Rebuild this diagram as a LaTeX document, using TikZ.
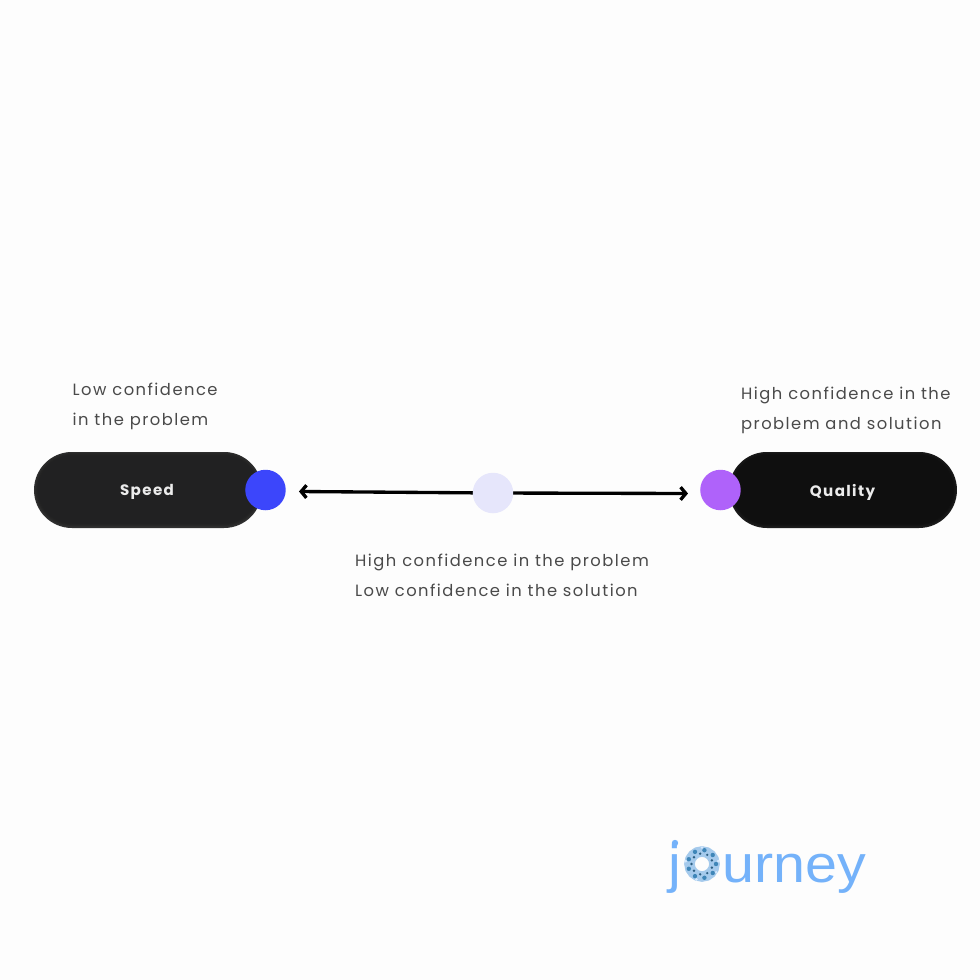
\documentclass[tikz,border=0pt]{standalone}
\usepackage{fontspec}
\setmainfont{Poppins}
\newfontfamily\notefont[LetterSpace=9]{Poppins}
\newfontfamily\pillfont[LetterSpace=9]{Poppins Bold}
\newfontfamily\logofont[FakeStretch=1.09]{Liberation Sans}
\usetikzlibrary{arrows.meta,positioning}
\definecolor{pageback}{HTML}{FDFDFD}
\definecolor{notegray}{HTML}{4A4A4A}
\definecolor{speedfill}{HTML}{212122}
\definecolor{speededge}{HTML}{303030}
\definecolor{qualfill}{HTML}{0F0F0F}
\definecolor{qualedge}{HTML}{1C1C1C}
\definecolor{dotblue}{HTML}{3C46FB}
\definecolor{dotviolet}{HTML}{AF62FA}
\definecolor{dotpale}{HTML}{E6E6FB}
\definecolor{logoblue}{HTML}{74B2FA}
\definecolor{ringblue}{HTML}{3F86B8}
\tikzset{
  pill/.style={draw=none,rounded corners=.38cm,minimum width=2.28cm,minimum height=.76cm,inner sep=0pt},
  pilllayer/.style={draw=none,inner sep=0pt,rounded corners=.38cm-#1,minimum width=2.28cm-2*#1,minimum height=.76cm-2*#1},
  pilltext/.style={text=white!92!black,font=\pillfont\fontsize{4.3}{6}\selectfont},
  note/.style={text=notegray,align=left,anchor=north west,inner sep=0pt,font=\notefont\fontsize{4.65}{8.55}\selectfont},
  dot/.style={circle,minimum size=.405cm,inner sep=0pt},
  arr/.style={black,line width=.95pt,shorten <=-1pt,-{Straight Barb[length=1.5pt,width=3.6pt,line width=.95pt]}},
}
\begin{document}
\begin{tikzpicture}
  \useasboundingbox[fill=pageback] (0,0) rectangle (9.8,9.8);
  % pills
  \node[pill,fill=speededge] (speedpill) at (1.48,4.9) {};
  \foreach \inset/\mixval in {.008/30,.016/55,.024/75,.032/90,.04/100}
    \node[pilllayer=\inset cm,fill=speedfill!\mixval!speededge] at (1.48,4.905) {};
  \node[pilltext] (speedlabel) at (1.47,4.88) {Speed};
  \node[pill,fill=qualedge] (qualpill) at (8.43,4.9) {};
  \foreach \inset/\mixval in {.008/30,.016/55,.024/75,.032/90,.04/100}
    \node[pilllayer=\inset cm,fill=qualfill!\mixval!qualedge] at (8.43,4.905) {};
  \node[pilltext] (quallabel) at (8.425,4.88) {Quality};
  % dots and arrow
  \coordinate (arrowleft) at (2.99,4.885);
  \coordinate (arrowright) at (6.88,4.865);
  \node[dot,fill=dotblue] (speeddot) at (2.655,4.9) {};
  \node[dot,fill=dotviolet] (qualdot) at (7.205,4.9) {};
  \draw[arr] (4.93,4.87) coordinate (midpoint) -- (arrowleft);
  \draw[arr] (midpoint) -- (arrowright);
  \node[dot,fill=dotpale] (middot) at (midpoint) {};
  % notes
  \node[note] (speednote) at (.72,5.98) {Low confidence\\in the problem};
  \node[note] (qualnote) at (7.405,5.94) {High confidence in the\\problem and solution};
  \node[note] (midnote) at (3.545,4.27) {High confidence in the problem\\Low confidence in the solution};
  % logo
  \node[text=logoblue,inner sep=0pt,anchor=base west,font=\logofont\fontsize{15}{15}\selectfont] (logotext) at (6.68,.98) {j\hspace{.41cm}urney};
  \fill[logoblue] (6.75,1.37) circle (.032);
  \draw[ringblue!45!logoblue!55!white,line width=3pt] (7.02,1.16) circle (.125);
  \foreach \ang in {0,40,...,320}
    \fill[ringblue] (7.02,1.16) ++(\ang:.14) circle (.022);
  \foreach \ang in {20,60,...,340}
    \fill[ringblue!70!black] (7.02,1.16) ++(\ang:.105) circle (.013);
  \foreach \ang in {10,90,...,330}
    \fill[white!70!logoblue] (7.02,1.16) ++(\ang:.165) circle (.014);
\end{tikzpicture}
\end{document}
